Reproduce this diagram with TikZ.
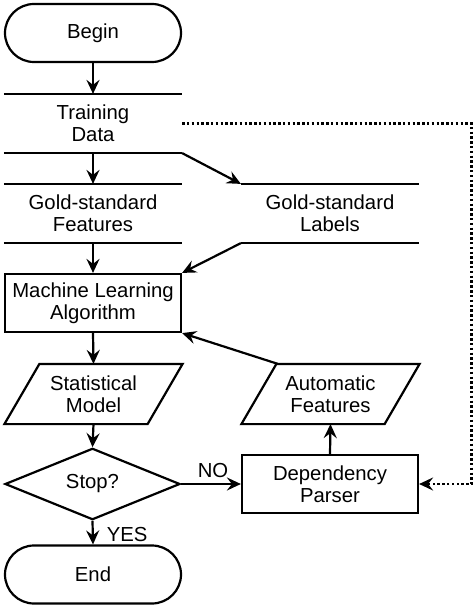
\documentclass[tikz,border=0pt]{standalone}
\usepackage{fontspec}
\setmainfont{Liberation Sans}
\usetikzlibrary{arrows.meta,shapes.geometric}
\begin{document}
\begin{tikzpicture}[x=1pt,y=-1pt,line width=2.2pt,
  every node/.style={font=\fontsize{20.3}{22}\selectfont,align=center,inner sep=0pt},
  terminal/.style={draw,rounded corners=29pt,minimum width=176pt,minimum height=58pt},
  procbox/.style={draw,minimum width=176pt,minimum height=58pt},
  storebox/.style={minimum width=176pt,minimum height=57pt},
  iobox/.style={minimum width=141pt,minimum height=58pt},
  decision/.style={draw,diamond,minimum width=175pt,minimum height=58pt},
  arr/.style={-{Stealth[length=14pt,width=13pt,inset=5pt]}},
  dots/.style={dash pattern=on 2.4pt off 2.4pt,line width=2.6pt}]
\useasboundingbox (0,0) rectangle (474,607);
\node[terminal] (begin) at (93,33) {Begin};
\node[storebox] (td) at (93,123.5) {Training\\Data};
\node[storebox] (gsf) at (93,213.5) {Gold-standard\\Features};
\node[storebox] (gsl) at (330,213.5) {Gold-standard\\Labels};
\node[procbox] (ml) at (93,303) {Machine Learning\\Algorithm};
\node[iobox] (sm) at (93.5,394) {Statistical\\Model};
\node[iobox] (af) at (330.5,394) {Automatic\\Features};
\node[decision] (stop) at (92.5,484) {Stop?};
\node[procbox] (dp) at (330,484) {Dependency\\Parser};
\node[terminal] (end) at (93,574.5) {End};
\coordinate (rx) at (471.5,0);
% store lines
\foreach \n in {td,gsf,gsl}{
  \draw (\n.north west) -- (\n.north east);
  \draw (\n.south west) -- (\n.south east);
}
% parallelograms
\foreach \n in {sm,af}{
  \draw ([xshift=17.5pt]\n.north west) -- ([xshift=17.5pt]\n.north east) --
        ([xshift=-17.5pt]\n.south east) -- ([xshift=-17.5pt]\n.south west) -- cycle;
}
\draw[arr] (begin.south) -- (td.north);
\draw[arr] (td.south) -- (gsf.north);
\draw[arr] (td.south east) -- (gsl.north west);
\draw[arr] (gsf.south) -- (ml.north);
\draw[arr] (gsl.south west) -- (ml.north east);
\draw[arr] (ml.south) -- (sm.north);
\draw[arr] ([xshift=19pt]af.north west) -- (ml.south east);
\draw[arr] (sm.south) -- (stop.north);
\draw[arr] (stop.east) -- node[above=5pt,xshift=2pt] (no) {NO} (dp.west);
\draw[arr] (stop.south) -- node[right=13pt,yshift=-2pt] (yes) {YES} (end.north);
\draw[arr] (dp.north) -- (af.south);
\draw[dots,arr] (td.east) -- (td.east -| rx) |- (dp.east);
\end{tikzpicture}
\end{document}
